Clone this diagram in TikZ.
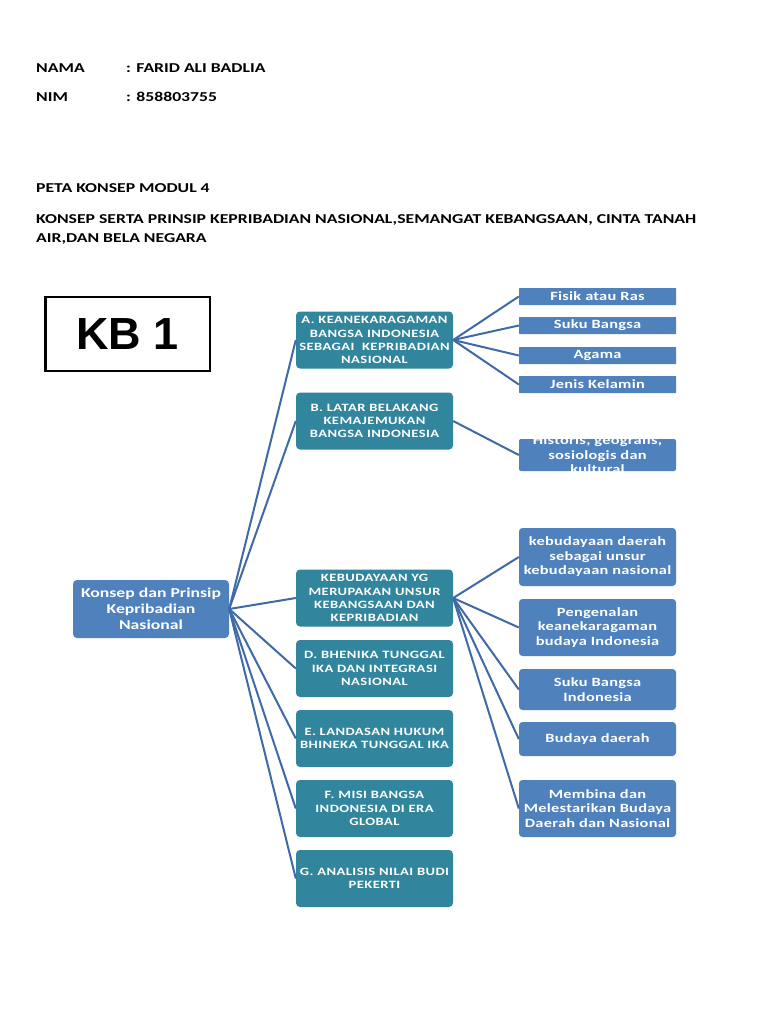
\documentclass[tikz,border=0pt]{standalone}
\usepackage{fontspec}
\setmainfont{Carlito}[FakeStretch=1.3]
\newfontfamily\midfont{Carlito}[FakeStretch=1.3, LetterSpace=4]
\newfontfamily\rfont{Carlito}[FakeStretch=1.3, LetterSpace=2]
\newfontfamily\kbfont{Liberation Sans}
\definecolor{tealb}{HTML}{31859C}
\definecolor{blueb}{HTML}{4F81BD}
\definecolor{linec}{HTML}{3F6AA6}
\tikzset{
  hdr/.style={anchor=base west, inner sep=0pt, font=\bfseries\fontsize{13.6}{16}\selectfont},
  midbox/.style={rectangle, rounded corners=4pt, fill=tealb, text=white, minimum width=157pt, minimum height=57pt, align=center, inner sep=0pt, font=\midfont\bfseries\fontsize{11.2}{13.2}\selectfont},
  rbox/.style={rectangle, rounded corners=3.5pt, fill=blueb, text=white, minimum width=157pt, align=center, inner sep=0pt, font=\rfont\bfseries\fontsize{12.6}{14.5}\selectfont},
  sbox/.style={rbox, rounded corners=0.5pt, minimum height=17pt},
  conn/.style={draw=linec, line width=2pt},
}
\begin{document}
\begin{tikzpicture}[x=1pt, y=-1pt]
\useasboundingbox (0,0) rectangle (768,1024);
\fill[white] (0,0) rectangle (768,1024);
% header
\node[hdr] (nama) at (36,72.5) {NAMA};
\node[hdr] (namav) at (126,72.5) {: FARID ALI BADLIA};
\node[hdr] (nim) at (36,102) {NIM};
\node[hdr] (nimv) at (126,102) {: 858803755};
\node[hdr] (peta) at (36,192.5) {PETA KONSEP MODUL 4};
\node[hdr] (judul1) at (36,223) {KONSEP SERTA PRINSIP KEPRIBADIAN NASIONAL,SEMANGAT KEBANGSAAN, CINTA TANAH};
\node[hdr] (judul2) at (36,243) {AIR,DAN BELA NEGARA};
% KB 1
\node[draw=black, line width=2.5pt, minimum width=164.5pt, minimum height=74pt, inner sep=0pt, font=\kbfont\bfseries\fontsize{45}{45}\selectfont] (kb) at (127.5,334) {KB 1};
% root
\node[rectangle, rounded corners=4pt, fill=blueb, text=white, minimum width=156pt, minimum height=58pt, align=center, inner sep=0pt, font=\bfseries\fontsize{13.6}{16}\selectfont] (root) at (151,609) {Konsep dan Prinsip\\Kepribadian\\Nasional};
% middle boxes
\node[midbox] (A) at (374.5,340) {A. KEANEKARAGAMAN\\BANGSA INDONESIA\\SEBAGAI\ \ KEPRIBADIAN\\NASIONAL};
\node[midbox] (B) at (374.5,421) {B. LATAR BELAKANG\\KEMAJEMUKAN\\BANGSA INDONESIA};
\node[midbox] (C) at (374.5,598) {KEBUDAYAAN YG\\MERUPAKAN UNSUR\\KEBANGSAAN DAN\\KEPRIBADIAN};
\node[midbox] (D) at (374.5,668.5) {D. BHENIKA TUNGGAL\\IKA DAN INTEGRASI\\NASIONAL};
\node[midbox] (E) at (374.5,738.5) {E. LANDASAN HUKUM\\BHINEKA TUNGGAL IKA};
\node[midbox] (F) at (374.5,808.5) {F. MISI BANGSA\\INDONESIA DI ERA\\GLOBAL};
\node[midbox] (G) at (374.5,878.5) {G. ANALISIS NILAI BUDI\\PEKERTI};
% right boxes group A
\node[sbox] (a1) at (597.5,296.5) {Fisik atau Ras};
\node[sbox] (a2) at (597.5,325.5) {Suku Bangsa};
\node[sbox] (a3) at (597.5,355.5) {Agama};
\node[sbox] (a4) at (597.5,384.5) {Jenis Kelamin};
% group B
\node[rbox, rounded corners=2pt, minimum height=32pt] (b1) at (597.5,455) {};
\begin{scope}
\clip[rounded corners=2pt] (b1.north west) rectangle (b1.south east);
\node[rbox, fill=none] (b1t) at (b1.center) {Historis, geografis,\\sosiologis dan\\kultural};
\end{scope}
% group C
\node[rbox, minimum height=58pt] (c1) at (597.5,557) {kebudayaan daerah\\sebagai unsur\\kebudayaan nasional};
\node[rbox, minimum height=57pt] (c2) at (597.5,627.5) {Pengenalan\\keanekaragaman\\budaya Indonesia};
\node[rbox, minimum height=41pt] (c3) at (597.5,689.5) {Suku Bangsa\\Indonesia};
\node[rbox, minimum height=34pt] (c4) at (597.5,739) {Budaya daerah};
\node[rbox, minimum height=57pt] (c5) at (597.5,808.5) {Membina dan\\Melestarikan Budaya\\Daerah dan Nasional};
% connectors
\foreach \m in {A,B,C,D,E,F,G} {\draw[conn] (root.east) -- (\m.west);}
\foreach \r in {a1,a2,a3,a4} {\draw[conn] (A.east) -- (\r.west);}
\draw[conn] (B.east) -- (b1.west);
\foreach \r in {c1,c2,c3,c4,c5} {\draw[conn] (C.east) -- (\r.west);}
\end{tikzpicture}
\end{document}
